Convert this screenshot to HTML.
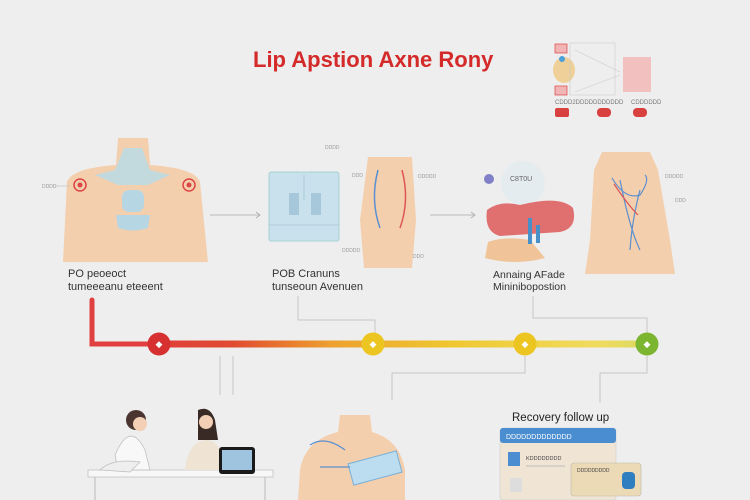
<!DOCTYPE html>
<html><head><meta charset="utf-8"><style>
html,body{margin:0;padding:0;background:#eeeeee;}
svg{display:block;font-family:"Liberation Sans",sans-serif;}
</style></head><body>
<svg width="750" height="500" viewBox="0 0 750 500">
<defs>
<linearGradient id="tl" x1="0" x2="1">
<stop offset="0" stop-color="#e0403a"/><stop offset="0.15" stop-color="#e04a30"/>
<stop offset="0.35" stop-color="#eda030"/><stop offset="0.6" stop-color="#efc830"/>
<stop offset="0.9" stop-color="#f0dc60"/><stop offset="1" stop-color="#d8d860"/>
</linearGradient>
</defs>
<rect width="750" height="500" fill="#eeeeee"/>
<text x="253" y="67" font-size="22" font-weight="bold" fill="#d42a2a">Lip Apstion Axne Rony</text>

<!-- top right mini diagram -->
<rect x="555" y="44" width="12" height="9" fill="#f2b5b5" stroke="#d44" stroke-width="0.7"/>
<rect x="555" y="86" width="12" height="9" fill="#f2b5b5" stroke="#d44" stroke-width="0.7"/>
<ellipse cx="564" cy="70" rx="11" ry="13" fill="#efd098"/>
<circle cx="562" cy="59" r="3" fill="#4aa0d8"/>
<rect x="570" y="43" width="45" height="52" fill="none" stroke="#ccc" stroke-width="0.6"/>
<rect x="623" y="57" width="28" height="35" fill="#f3c0c0"/>
<line x1="575" y1="50" x2="620" y2="72" stroke="#ccc" stroke-width="0.6"/>
<line x1="575" y1="92" x2="620" y2="75" stroke="#ccc" stroke-width="0.6"/>
<text x="555" y="104" font-size="6" fill="#777">CDDD2DDDDDDDDDDD</text>
<text x="631" y="104" font-size="6" fill="#777">CDDDDDD</text>
<rect x="555" y="108" width="14" height="9" rx="2" fill="#d94040"/>
<rect x="597" y="108" width="14" height="9" rx="4" fill="#d94040"/>
<rect x="633" y="108" width="14" height="9" rx="4" fill="#d94040"/>

<!-- torso 1 -->
<path d="M118 138 L148 138 L150 165 Q195 168 200 182 L208 262 L63 262 L67 182 Q72 168 116 165 Z" fill="#f4cfae"/>
<path d="M124 148 L142 148 L150 170 L170 175 L148 185 L118 185 L95 175 L115 170 Z" fill="#bcd9e2" opacity="0.9"/>
<rect x="122" y="190" width="22" height="22" rx="7" fill="#b7d6e3"/>
<path d="M116 215 L150 215 L148 228 Q133 233 118 228 Z" fill="#b7d6e3"/>
<circle cx="80" cy="185" r="6" fill="none" stroke="#d44" stroke-width="1.5"/><circle cx="80" cy="185" r="2.5" fill="#d44"/>
<circle cx="189" cy="185" r="6" fill="none" stroke="#d44" stroke-width="1.5"/><circle cx="189" cy="185" r="2.5" fill="#d44"/>
<text x="42" y="188" font-size="5" fill="#999">DDDD</text>
<line x1="55" y1="186" x2="70" y2="186" stroke="#bbb" stroke-width="0.6"/>
<text x="68" y="277" font-size="11" fill="#333">PO peoeoct</text>
<text x="68" y="290" font-size="11" fill="#333">tumeeeanu eteeent</text>

<line x1="210" y1="215" x2="260" y2="215" stroke="#aaa" stroke-width="0.8"/>
<path d="M256 212 L260 215 L256 218" fill="none" stroke="#aaa" stroke-width="0.8"/>

<!-- blue box -->
<rect x="269" y="172" width="70" height="69" rx="2" fill="#c9e1ec" stroke="#9cc" stroke-width="0.8"/>
<line x1="269" y1="225" x2="339" y2="225" stroke="#9bc" stroke-width="0.6"/>
<rect x="289" y="193" width="10" height="22" fill="#a6c8da"/>
<rect x="311" y="193" width="10" height="22" fill="#a6c8da"/>
<line x1="304" y1="175" x2="304" y2="200" stroke="#9bc" stroke-width="0.6"/>
<text x="325" y="149" font-size="5" fill="#999">DDDD</text>
<text x="352" y="177" font-size="5" fill="#999">DDD</text>
<text x="342" y="252" font-size="5" fill="#999">DDDDD</text>
<text x="272" y="277" font-size="11" fill="#333">POB Cranuns</text>
<text x="272" y="290" font-size="11" fill="#333">tunseoun Avenuen</text>

<!-- torso 2 -->
<path d="M368 157 L412 157 L416 220 L412 268 L364 268 L360 220 Z" fill="#f4cfae"/>
<path d="M378 170 Q370 200 380 228" fill="none" stroke="#5a8fd0" stroke-width="1.5"/>
<path d="M402 170 Q410 200 400 228" fill="none" stroke="#d55" stroke-width="1.5"/>
<text x="418" y="178" font-size="5" fill="#999">DDDDD</text>
<text x="413" y="258" font-size="5" fill="#999">DDD</text>

<line x1="430" y1="215" x2="475" y2="215" stroke="#aaa" stroke-width="0.8"/>
<path d="M471 212 L475 215 L471 218" fill="none" stroke="#aaa" stroke-width="0.8"/>

<!-- organ -->
<circle cx="523" cy="183" r="22" fill="#e4ecef"/>
<circle cx="489" cy="179" r="5" fill="#8080c8"/>
<text x="510" y="181" font-size="7" fill="#666">C8T0U</text>
<path d="M487 210 Q500 200 520 205 Q560 195 573 208 Q578 228 560 232 L500 236 Q484 232 487 210 Z" fill="#e07070"/>
<path d="M488 242 Q505 236 530 240 L545 258 Q515 266 485 258 Z" fill="#f0c498"/>
<rect x="528" y="218" width="4" height="26" fill="#4a90c8"/>
<rect x="536" y="225" width="4" height="18" fill="#4a90c8"/>
<text x="493" y="278" font-size="10.5" fill="#333">Annaing AFade</text>
<text x="493" y="290" font-size="10.5" fill="#333">Mininibopostion</text>

<!-- torso 4 -->
<path d="M602 152 L650 152 L658 170 L670 240 L675 274 L585 274 L590 240 L594 170 Z" fill="#f4cfae"/>
<path d="M612 178 Q625 200 640 195 Q650 180 645 175 M620 180 Q630 230 640 250 M640 190 Q632 220 630 250" fill="none" stroke="#5a8fd0" stroke-width="1.2"/>
<path d="M614 184 Q628 205 638 215" fill="none" stroke="#d55" stroke-width="1.2"/>
<text x="665" y="178" font-size="5" fill="#999">DDDDD</text>
<text x="675" y="202" font-size="5" fill="#999">DDD</text>

<!-- connectors -->
<g stroke="#bbb" stroke-width="0.8" fill="none">
<path d="M298 296 L298 320 L375 320 L375 335"/>
<path d="M533 296 L533 318 L647 318 L647 335"/>
<path d="M233 356 L233 395 M220 356 L220 395"/>
<path d="M525 356 L525 373 L392 373 L392 400"/>
<path d="M647 356 L647 373 L600 373 L600 403"/>
</g>

<!-- timeline -->
<path d="M92 300 L92 344 L160 344" fill="none" stroke="#e04040" stroke-width="5" stroke-linecap="round"/>
<rect x="158" y="340.5" width="492" height="7" fill="url(#tl)"/>
<circle cx="159" cy="344" r="11.5" fill="#d73030"/>
<circle cx="373" cy="344" r="11.5" fill="#ecc520"/>
<circle cx="525" cy="344" r="11.5" fill="#ecc520"/>
<circle cx="647" cy="344" r="11.5" fill="#7cb530"/>
<g fill="#fff" font-size="9" text-anchor="middle"><text x="159" y="347">◆</text><text x="373" y="347">◆</text><text x="525" y="347">◆</text><text x="647" y="347">◆</text></g>

<!-- bottom scene people -->
<rect x="88" y="470" width="185" height="7" fill="#f7f7f7" stroke="#bbb" stroke-width="0.7"/>
<line x1="95" y1="477" x2="95" y2="500" stroke="#bbb"/><line x1="265" y1="477" x2="265" y2="500" stroke="#bbb"/>
<path d="M115 455 Q130 420 145 450 L150 470 L118 470 Z" fill="#f8f8f8" stroke="#bbb" stroke-width="0.7"/>
<circle cx="136" cy="420" r="10" fill="#4a3530"/>
<circle cx="140" cy="424" r="7" fill="#f2cfb5"/>
<path d="M185 470 Q188 440 208 440 Q222 442 225 470 Z" fill="#efe3d3"/>
<path d="M198 410 Q210 405 215 420 L218 440 L198 440 Z" fill="#3a2a25"/>
<circle cx="206" cy="422" r="7" fill="#f2cfb5"/>
<rect x="219" y="447" width="36" height="27" rx="3" fill="#1a1a1a"/>
<rect x="222" y="450" width="30" height="20" fill="#9ec4e0"/>
<path d="M100 470 Q112 458 140 462 L130 472 Z" fill="#eee" stroke="#bbb" stroke-width="0.7"/>

<!-- bottom torso -->
<path d="M340 415 L370 415 L372 432 Q400 440 405 470 L405 500 L298 500 L300 470 Q305 440 338 432 Z" fill="#f4cfae"/>
<rect x="350" y="457" width="50" height="22" fill="#bcdcef" stroke="#78b0d8" stroke-width="1" transform="rotate(-15 375 468)"/>
<path d="M310 445 Q325 435 345 450" fill="none" stroke="#5a8fd0" stroke-width="1.2"/>
<line x1="320" y1="467" x2="350" y2="467" stroke="#5a8fd0" stroke-width="1.2"/>

<!-- recovery -->
<text x="512" y="421" font-size="11.5" fill="#222">Recovery follow up</text>
<rect x="500" y="428" width="116" height="72" rx="3" fill="#f0e5d5" stroke="#ccc" stroke-width="0.6"/>
<rect x="500" y="428" width="116" height="15" rx="3" fill="#4a8dd0"/>
<text x="506" y="439" font-size="7" fill="#fff">DDDDDDDDDDDDD</text>
<rect x="508" y="452" width="12" height="14" fill="#4a8dd0"/>
<text x="526" y="460" font-size="5.5" fill="#444">KDDDDDDDD</text>
<line x1="526" y1="466" x2="565" y2="466" stroke="#bbb"/>
<rect x="510" y="478" width="12" height="14" fill="#ddd"/>
<rect x="571" y="463" width="70" height="33" rx="3" fill="#ecd9b5" stroke="#bba" stroke-width="0.6"/>
<text x="577" y="472" font-size="5" fill="#444">DDDDDDDDD</text>
<rect x="622" y="472" width="13" height="17" rx="4" fill="#2f7ec0"/>
</svg>
</body></html>
